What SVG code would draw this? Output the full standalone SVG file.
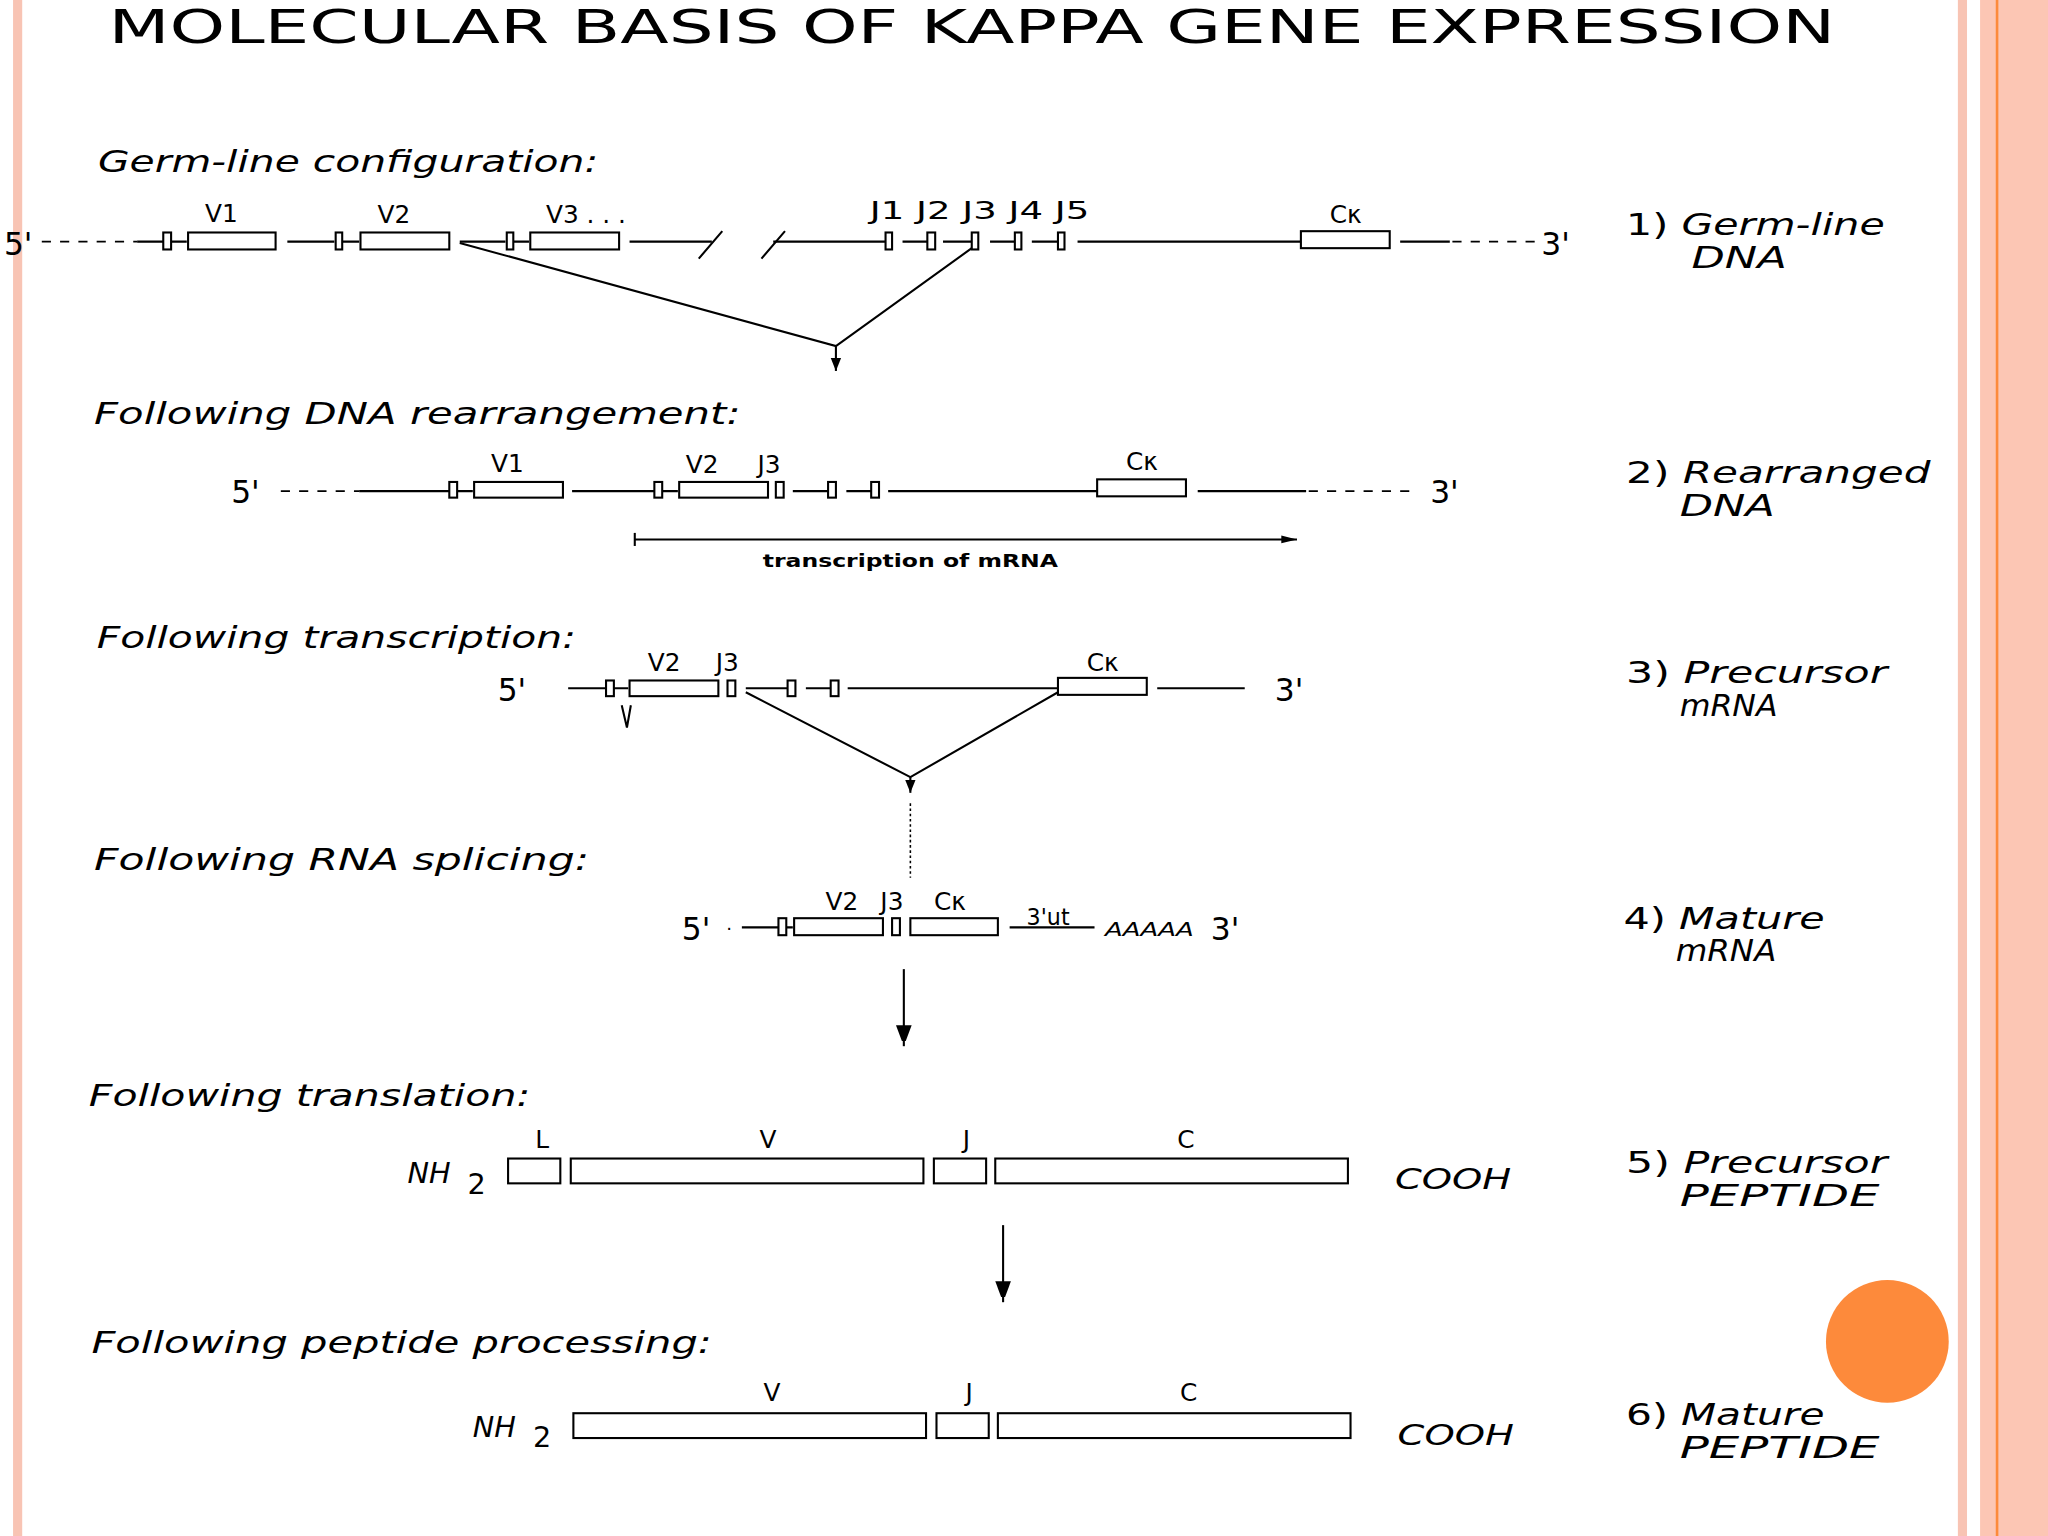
<svg xmlns="http://www.w3.org/2000/svg" width="2048" height="1536" viewBox="0 0 2048 1536">
<style>
text{font-family:"DejaVu Sans","Liberation Sans",sans-serif;fill:#000}
.h{font-size:23px;font-style:italic}
.l{font-size:19px}
.e{font-size:24px}
.r{font-size:23px}
.i{font-style:italic}
.s{fill:none;stroke:#000;stroke-width:1.6}
.b{fill:#fff;stroke:#000;stroke-width:1.6}
.d{fill:none;stroke:#000;stroke-width:1.4;stroke-dasharray:7 7}
</style>
<defs><marker id="ar" markerWidth="10" markerHeight="10" refX="10" refY="5" orient="auto" markerUnits="userSpaceOnUse"><path d="M0,1 L10,5 L0,9 z" fill="#000"/></marker>
<marker id="ah" markerWidth="12" markerHeight="16" refX="12" refY="8" orient="auto" markerUnits="userSpaceOnUse"><path d="M0,5 L12,8 L0,11 z" fill="#000"/></marker>
<marker id="ab" markerWidth="12" markerHeight="16" refX="16" refY="6" orient="auto" markerUnits="userSpaceOnUse"><path d="M0,0 L16,6 L0,12 z" fill="#000"/></marker></defs>
<rect width="2048" height="1536" fill="#fff"/>
<g transform="scale(1.30612)">
<g id="decor">
<rect x="10" y="0" width="7" height="1176" fill="#f8c4b4"/>
<rect x="1499" y="0" width="7" height="1176" fill="#f8c4b4"/>
<rect x="1516" y="0" width="52" height="1176" fill="#fcc6b4"/>
<rect x="1528" y="0" width="2" height="1176" fill="#fd8a3b"/>
<circle cx="1445" cy="1027" r="47" fill="#fd8a3b"/>
</g>
<text x="83" y="33" font-size="36" textLength="1322" lengthAdjust="spacingAndGlyphs">MOLECULAR BASIS OF KAPPA GENE EXPRESSION</text>
<g id="headings">
<text x="75" y="132" class="h" textLength="383" lengthAdjust="spacingAndGlyphs">Germ-line configuration:</text>
<text x="72" y="325" class="h" textLength="495" lengthAdjust="spacingAndGlyphs">Following DNA rearrangement:</text>
<text x="74" y="496" class="h" textLength="367" lengthAdjust="spacingAndGlyphs">Following transcription:</text>
<text x="72" y="666" class="h" textLength="379" lengthAdjust="spacingAndGlyphs">Following RNA splicing:</text>
<text x="68" y="847" class="h" textLength="338" lengthAdjust="spacingAndGlyphs">Following translation:</text>
<text x="70" y="1036" class="h" textLength="475" lengthAdjust="spacingAndGlyphs">Following peptide processing:</text>
</g>
<g id="rightlabels">
<text x="1245" y="180" class="r" textLength="198" lengthAdjust="spacingAndGlyphs">1) <tspan class="i">Germ-line</tspan></text><text x="1295" y="205" class="r i" textLength="73" lengthAdjust="spacingAndGlyphs">DNA</text>
<text x="1245" y="370" class="r" textLength="233" lengthAdjust="spacingAndGlyphs">2) <tspan class="i">Rearranged</tspan></text><text x="1286" y="395" class="r i" textLength="73" lengthAdjust="spacingAndGlyphs">DNA</text>
<text x="1245" y="523" class="r" textLength="200" lengthAdjust="spacingAndGlyphs">3) <tspan class="i">Precursor</tspan></text><text x="1286" y="548" class="r i" textLength="75" lengthAdjust="spacingAndGlyphs">mRNA</text>
<text x="1243" y="711" class="r" textLength="154" lengthAdjust="spacingAndGlyphs">4) <tspan class="i">Mature</tspan></text><text x="1283" y="736" class="r i" textLength="77" lengthAdjust="spacingAndGlyphs">mRNA</text>
<text x="1245" y="898" class="r" textLength="200" lengthAdjust="spacingAndGlyphs">5) <tspan class="i">Precursor</tspan></text><text x="1286" y="923" class="r i" textLength="153" lengthAdjust="spacingAndGlyphs">PEPTIDE</text>
<text x="1245" y="1091" class="r" textLength="152" lengthAdjust="spacingAndGlyphs">6) <tspan class="i">Mature</tspan></text><text x="1286" y="1116" class="r i" textLength="153" lengthAdjust="spacingAndGlyphs">PEPTIDE</text>
</g>
<g id="germline">
<text x="3" y="195" class="e">5'</text>
<line x1="32" y1="185" x2="105" y2="185" class="d"/>
<path class="s" d="M105,185H125M131,185H143M220,185H256M262,185H275M352,185H387M393,185H405M482,185H545M592,185H678M691,185H710M722,185H744M758,185H777M790,185H810M825,185H996M1072,185H1110"/>
<path class="s" d="M535,198L553,177M583,198L601,177"/>
<line x1="1112" y1="185" x2="1175" y2="185" class="d"/>
<rect x="125" y="178" width="6" height="13" class="b"/><rect x="144" y="178" width="67" height="13" class="b"/>
<rect x="257" y="178" width="5" height="13" class="b"/><rect x="276" y="178" width="68" height="13" class="b"/>
<rect x="388" y="178" width="5" height="13" class="b"/><rect x="406" y="178" width="68" height="13" class="b"/>
<rect x="678" y="178" width="5" height="13" class="b"/><rect x="710" y="178" width="6" height="13" class="b"/><rect x="744" y="178" width="5" height="13" class="b"/><rect x="777" y="178" width="5" height="13" class="b"/><rect x="810" y="178" width="5" height="13" class="b"/>
<rect x="996" y="177" width="68" height="13" class="b"/>
<text x="1180" y="195" class="e">3'</text>
<text x="157" y="170" class="l">V1</text><text x="289" y="171" class="l">V2</text><text x="418" y="171" class="l">V3 . . .</text>
<text x="666" y="168" class="l" textLength="168" lengthAdjust="spacingAndGlyphs">J1 J2 J3 J4 J5</text><text x="1018" y="171" class="l">Cκ</text>
</g>
<g id="rearranged">
<text x="177" y="385" class="e">5'</text>
<line x1="215" y1="376" x2="275" y2="376" class="d"/>
<path class="s" d="M275,376H344M350,376H362M438,376H501M507,376H519M607,376H634M648,376H667M680,376H840M917,376H1000"/>
<line x1="1002" y1="376" x2="1082" y2="376" class="d"/>
<rect x="344" y="369" width="6" height="12" class="b"/><rect x="363" y="369" width="68" height="12" class="b"/>
<rect x="501" y="369" width="6" height="12" class="b"/><rect x="520" y="369" width="68" height="12" class="b"/><rect x="594" y="369" width="6" height="12" class="b"/>
<rect x="634" y="369" width="6" height="12" class="b"/><rect x="667" y="369" width="6" height="12" class="b"/><rect x="840" y="367" width="68" height="13" class="b"/>
<text x="1095" y="385" class="e">3'</text>
<text x="376" y="361" class="l">V1</text><text x="525" y="362" class="l">V2</text><text x="580" y="362" class="l">J3</text><text x="862" y="360" class="l">Cκ</text>
<line x1="486" y1="413" x2="993" y2="413" class="s" stroke-width="1.3" marker-end="url(#ah)"/>
<line x1="486" y1="408" x2="486" y2="418" class="s"/>
<text x="697" y="434" font-size="14" font-weight="bold" text-anchor="middle" textLength="226" lengthAdjust="spacingAndGlyphs">transcription of mRNA</text>
</g>
<g id="precursor">
<text x="381" y="537" class="e">5'</text>
<path class="s" d="M435,527H464M470,527H481M571,527H603M617,527H636M649,527H810M886,527H953"/>
<rect x="464" y="521" width="6" height="12" class="b"/><rect x="482" y="521" width="68" height="12" class="b"/><rect x="557" y="521" width="6" height="12" class="b"/>
<rect x="603" y="521" width="6" height="12" class="b"/><rect x="636" y="521" width="6" height="12" class="b"/><rect x="810" y="519" width="68" height="13" class="b"/>
<path class="s" d="M476,540L480,557L483,540"/>
<text x="976" y="537" class="e">3'</text>
<text x="496" y="514" class="l">V2</text><text x="548" y="514" class="l">J3</text><text x="832" y="514" class="l">Cκ</text>
</g>
<g id="mature">
<text x="522" y="720" class="e">5'</text><text x="556" y="716" font-size="14">·</text>
<path class="s" d="M568,710H596M602,710H607M773,710H838"/>
<rect x="596" y="703" width="6" height="13" class="b"/><rect x="608" y="703" width="68" height="13" class="b"/><rect x="683" y="703" width="6" height="13" class="b"/><rect x="697" y="703" width="67" height="13" class="b"/>
<text x="786" y="708" font-size="17">3'ut</text>
<text x="846" y="717" font-size="15" font-style="italic" textLength="68" lengthAdjust="spacingAndGlyphs">AAAAA</text>
<text x="927" y="720" class="e">3'</text>
<text x="632" y="697" class="l">V2</text><text x="674" y="697" class="l">J3</text><text x="715" y="697" class="l">Cκ</text>
</g>
<g id="peptide1">
<text x="312" y="906" font-size="22" font-style="italic">NH</text><text x="358" y="914" font-size="22">2</text>
<rect x="389" y="887" width="40" height="19" class="b"/><rect x="437" y="887" width="270" height="19" class="b"/><rect x="715" y="887" width="40" height="19" class="b"/><rect x="762" y="887" width="270" height="19" class="b"/>
<text x="415" y="879" class="l" text-anchor="middle">L</text><text x="588" y="879" class="l" text-anchor="middle">V</text><text x="740" y="879" class="l" text-anchor="middle">J</text><text x="908" y="879" class="l" text-anchor="middle">C</text>
<text x="1068" y="910" font-size="22" font-style="italic" textLength="89" lengthAdjust="spacingAndGlyphs">COOH</text>
</g>
<g id="peptide2">
<text x="362" y="1100" font-size="22" font-style="italic">NH</text><text x="408" y="1108" font-size="22">2</text>
<rect x="439" y="1082" width="270" height="19" class="b"/><rect x="717" y="1082" width="40" height="19" class="b"/><rect x="764" y="1082" width="270" height="19" class="b"/>
<text x="591" y="1073" class="l" text-anchor="middle">V</text><text x="742" y="1073" class="l" text-anchor="middle">J</text><text x="910" y="1073" class="l" text-anchor="middle">C</text>
<text x="1070" y="1106" font-size="22" font-style="italic" textLength="89" lengthAdjust="spacingAndGlyphs">COOH</text>
</g>
<g id="connectors">
<path class="s" d="M352,186L640,265L744,190"/>
<line x1="640" y1="265" x2="640" y2="284" class="s" marker-end="url(#ar)"/>
<path class="s" d="M571,530L697,595L810,530"/>
<line x1="697" y1="595" x2="697" y2="607" class="s" marker-end="url(#ar)"/>
<line x1="697" y1="615" x2="697" y2="672" stroke="#000" stroke-width="1.2" stroke-dasharray="2 2"/>
<line x1="692" y1="742" x2="692" y2="801" class="s" marker-end="url(#ab)"/>
<line x1="768" y1="938" x2="768" y2="997" class="s" marker-end="url(#ab)"/>
</g>
</g>
</svg>
